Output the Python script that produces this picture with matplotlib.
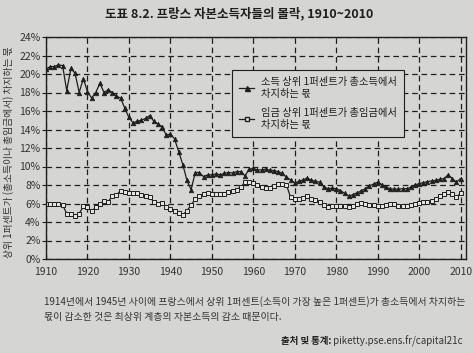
import matplotlib
matplotlib.use("Agg")
import matplotlib.pyplot as plt
from matplotlib.lines import Line2D

plt.rcParams['font.family'] = ['Noto Sans CJK KR', 'DejaVu Sans']

years = list(range(1910, 2011))

income_share = [
    20.5, 20.8, 20.8, 21.0, 20.9, 18.2, 20.6, 20.1, 18.0, 19.5,   # 1910-1919
    18.1, 17.4, 18.0, 19.0, 18.0, 18.3, 18.0, 17.6, 17.4, 16.3,   # 1920-1929
    15.3, 14.7, 14.9, 15.0, 15.2, 15.5, 14.9, 14.6, 14.3, 13.4,   # 1930-1939
    13.5, 13.0, 11.6, 10.2, 8.5, 7.5, 9.35, 9.35, 8.9, 9.1,       # 1940-1949
    9.1, 9.2, 9.1, 9.25, 9.35, 9.3, 9.45, 9.45, 9.0, 9.7,         # 1950-1959
    9.8, 9.6, 9.65, 9.7, 9.6, 9.55, 9.45, 9.25, 8.85, 8.55,       # 1960-1969
    8.2, 8.4, 8.55, 8.75, 8.5, 8.4, 8.3, 7.8, 7.6, 7.65,          # 1970-1979
    7.6, 7.4, 7.1, 6.8, 6.95, 7.15, 7.35, 7.6, 7.9, 8.1,          # 1980-1989
    8.3, 8.05, 7.75, 7.6, 7.55, 7.55, 7.6, 7.6, 7.75, 8.0,        # 1990-1999
    8.15, 8.25, 8.35, 8.45, 8.5, 8.6, 8.7, 9.1, 8.7, 8.3,         # 2000-2009
    8.7,                                                          # 2010
]

wage_share = [
    5.95, 5.95, 6.0, 6.0, 5.85, 4.9, 4.85, 4.65, 4.9, 5.7,        # 1910-1919
    5.65, 5.15, 5.6, 5.95, 6.3, 6.2, 6.8, 6.9, 7.4, 7.2,          # 1920-1929
    7.1, 7.1, 7.1, 6.9, 6.8, 6.7, 6.2, 5.95, 6.1, 5.65,           # 1930-1939
    5.4, 5.2, 4.95, 4.77, 5.2, 5.85, 6.45, 6.8, 7.0, 7.15,        # 1940-1949
    7.05, 7.0, 7.0, 7.05, 7.25, 7.35, 7.5, 7.8, 8.3, 8.3,         # 1950-1959
    8.2, 8.0, 7.8, 7.7, 7.7, 7.85, 8.1, 8.1, 8.0, 6.65,           # 1960-1969
    6.5, 6.45, 6.6, 6.85, 6.45, 6.35, 6.2, 5.85, 5.65, 5.7,       # 1970-1979
    5.7, 5.7, 5.7, 5.65, 5.75, 5.95, 6.05, 5.95, 5.85, 5.85,      # 1980-1989
    5.75, 5.7, 5.85, 5.95, 5.9, 5.75, 5.7, 5.75, 5.85, 6.0,       # 1990-1999
    6.1, 6.2, 6.2, 6.3, 6.45, 6.8, 7.05, 7.25, 7.0, 6.7,          # 2000-2009
    7.1,                                                          # 2010
]

x_ticks = list(range(1910, 2011, 10))
y_ticks = list(range(0, 25, 2))
y_tick_labels = [f"{v}%" for v in y_ticks]

title = "도표 8.2. 프랑스 자본소득자들의 몰락, 1910~2010"
y_label = "상위 1퍼센트가 (총소득이나 총임금에서) 차지하는 몫"
legend_income = "소득 상위 1퍼센트가 총소득에서\n차지하는 몫"
legend_wage = "임금 상위 1퍼센트가 총임금에서\n차지하는 몫"
caption = ("1914년에서 1945년 사이에 프랑스에서 상위 1퍼센트(소득이 가장 높은 1퍼센트)가 총소득에서 차지하는\n"
           "몫이 감소한 것은 최상위 계층의 자본소득의 감소 때문이다.")
source_label = "출처 및 통계:"
source_url = " piketty.pse.ens.fr/capital21c"

bg = '#d5d5d3'
ink = '#1e1e1e'

fig = plt.figure(figsize=(4.74, 3.53), dpi=100, facecolor=bg)
ax = fig.add_axes([46 / 474, 1 - 259 / 353, (466 - 46) / 474, (259 - 37) / 353])
ax.set_facecolor(bg)

ax.set_xlim(1910, 2011.3)
ax.set_ylim(0, 24)
ax.set_xticks(x_ticks)
ax.set_yticks(y_ticks)
ax.set_yticklabels(y_tick_labels)
ax.grid(True, color=ink, linestyle=(0, (4.5, 3)), linewidth=0.9)
ax.set_axisbelow(True)
for s in ax.spines.values():
    s.set_color(ink)
    s.set_linewidth(1.0)
ax.tick_params(axis='x', direction='in', length=3, colors=ink, labelsize=7.5, pad=6)
ax.tick_params(axis='y', direction='out', length=3, colors=ink, labelsize=7.5, pad=1)
for lbl in ax.get_yticklabels() + ax.get_xticklabels():
    lbl.set_color('#333333')

ax.plot(years, income_share, color=ink, linewidth=0.9, marker='^', markersize=3.3,
        markerfacecolor=ink, markeredgecolor=ink, markeredgewidth=0.5)
ax.plot(years, wage_share, color=ink, linewidth=0.9, marker='s', markersize=3.1,
        markerfacecolor='#e4e4e2', markeredgecolor=ink, markeredgewidth=0.7)

h1 = Line2D([], [], color=ink, linewidth=0.9, marker='^', markersize=3.6,
            markerfacecolor=ink, markeredgecolor=ink)
h2 = Line2D([], [], color=ink, linewidth=0.9, marker='s', markersize=3.2,
            markerfacecolor='#e4e4e2', markeredgecolor=ink)
leg = ax.legend([h1, h2], [legend_income, legend_wage], loc='upper left',
                bbox_to_anchor=(0.43, 0.875), frameon=True, fancybox=False,
                fontsize=7.4, handlelength=1.5, handletextpad=0.6,
                labelspacing=0.9, borderpad=0.7, facecolor=bg, edgecolor=ink,
                framealpha=1.0)
leg.get_frame().set_linewidth(0.8)
for t in leg.get_texts():
    t.set_color(ink)

fig.text(0.505, 0.962, title, ha='center', va='center', fontsize=9,
         fontweight='bold', color=ink)
fig.text(0.018, 1 - 152 / 353, y_label, rotation=90, ha='center', va='center',
         fontsize=7.0, color='#333333')
fig.text(44 / 474, 1 - 309 / 353, caption, ha='left', va='center', fontsize=7.1,
         color='#333333', linespacing=1.55)
t_url = fig.text(463 / 474, 1 - 341 / 353, source_url, ha='right', va='center',
                 fontsize=7.0, color='#333333')
fig.canvas.draw()
bb = t_url.get_window_extent()
fig.text(bb.x0 / fig.bbox.width, 1 - 341 / 353, source_label, ha='right', va='center',
         fontsize=6.8, fontweight='bold', color=ink)

fig.savefig('out.png', dpi=100, facecolor=bg)
